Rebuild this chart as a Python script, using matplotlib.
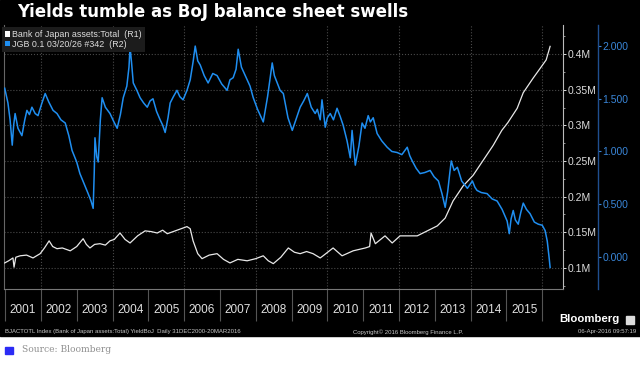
import matplotlib
matplotlib.use('Agg')
import matplotlib.pyplot as plt
from matplotlib.patches import Rectangle, Patch
from matplotlib.ticker import MultipleLocator, FuncFormatter, FixedLocator, NullFormatter
import numpy as np

# JGB 0.1 03/20/26 yield (R2), decimal years
jgb_t = [2000.99, 2001.08, 2001.14, 2001.20, 2001.24, 2001.28, 2001.36, 2001.47, 2001.55, 2001.61,
         2001.68, 2001.75, 2001.84, 2001.92, 2002.02, 2002.12, 2002.22, 2002.34, 2002.45, 2002.56,
         2002.68, 2002.78, 2002.87, 2003.00, 2003.09, 2003.20, 2003.32, 2003.40, 2003.46, 2003.49,
         2003.51, 2003.56, 2003.60, 2003.66, 2003.71, 2003.80, 2003.93, 2004.04, 2004.13, 2004.22,
         2004.30, 2004.40, 2004.46, 2004.49, 2004.53, 2004.58, 2004.68, 2004.77, 2004.87, 2004.97,
         2005.05, 2005.13, 2005.23, 2005.33, 2005.40, 2005.47, 2005.55, 2005.61, 2005.70, 2005.80,
         2005.88, 2005.97, 2006.08, 2006.17, 2006.25, 2006.31, 2006.38, 2006.45, 2006.56, 2006.67,
         2006.80, 2006.92, 2007.05, 2007.20, 2007.28, 2007.37, 2007.45, 2007.51, 2007.60, 2007.76,
         2007.84, 2007.93, 2008.05, 2008.21, 2008.33, 2008.46, 2008.52, 2008.60, 2008.68, 2008.77,
         2008.90, 2009.02, 2009.12, 2009.24, 2009.34, 2009.44, 2009.55, 2009.66, 2009.72, 2009.80,
         2009.85, 2009.94, 2010.00, 2010.08, 2010.17, 2010.27, 2010.36, 2010.44, 2010.55, 2010.64,
         2010.69, 2010.74, 2010.78, 2010.88, 2010.97, 2011.05, 2011.14, 2011.20, 2011.28, 2011.39,
         2011.52, 2011.67, 2011.80, 2011.95, 2012.08, 2012.23, 2012.30, 2012.37, 2012.48, 2012.59,
         2012.72, 2012.87, 2012.98, 2013.10, 2013.20, 2013.29, 2013.36, 2013.42, 2013.46, 2013.54,
         2013.63, 2013.75, 2013.91, 2014.05, 2014.12, 2014.18, 2014.30, 2014.46, 2014.60, 2014.74,
         2014.88, 2015.02, 2015.08, 2015.13, 2015.19, 2015.25, 2015.33, 2015.40, 2015.47, 2015.56,
         2015.66, 2015.78, 2015.89, 2016.00, 2016.08, 2016.14, 2016.19, 2016.22]
jgb_y = [1.60, 1.46, 1.30, 1.06, 1.25, 1.36, 1.22, 1.15, 1.30, 1.39,
         1.35, 1.42, 1.36, 1.34, 1.45, 1.55, 1.47, 1.39, 1.36, 1.30,
         1.27, 1.15, 1.01, 0.90, 0.79, 0.70, 0.60, 0.53, 0.46, 0.80,
         1.13, 0.95, 0.90, 1.30, 1.51, 1.42, 1.36, 1.28, 1.22, 1.35,
         1.51, 1.62, 1.80, 1.99, 1.85, 1.65, 1.58, 1.51, 1.46, 1.42,
         1.48, 1.50, 1.38, 1.30, 1.25, 1.18, 1.32, 1.46, 1.52, 1.58,
         1.52, 1.49, 1.58, 1.68, 1.85, 2.00, 1.86, 1.82, 1.72, 1.65,
         1.74, 1.72, 1.64, 1.58, 1.68, 1.70, 1.78, 1.97, 1.80, 1.68,
         1.62, 1.51, 1.40, 1.28, 1.52, 1.84, 1.72, 1.65, 1.58, 1.55,
         1.32, 1.20, 1.30, 1.42, 1.48, 1.55, 1.42, 1.36, 1.40, 1.30,
         1.49, 1.23, 1.32, 1.36, 1.30, 1.41, 1.33, 1.25, 1.10, 0.94,
         1.20, 1.02, 0.87, 1.05, 1.27, 1.22, 1.34, 1.28, 1.32, 1.17,
         1.10, 1.04, 1.00, 0.99, 0.97, 1.04, 0.96, 0.91, 0.84, 0.79,
         0.80, 0.82, 0.76, 0.72, 0.60, 0.47, 0.62, 0.80, 0.91, 0.82,
         0.85, 0.72, 0.65, 0.72, 0.66, 0.63, 0.61, 0.60, 0.55, 0.53,
         0.45, 0.34, 0.22, 0.36, 0.44, 0.35, 0.31, 0.42, 0.51, 0.45,
         0.41, 0.33, 0.31, 0.30, 0.25, 0.15, 0.00, -0.10]

# Bank of Japan assets total (R1), millions
boj_t = [2000.99, 2001.10, 2001.22, 2001.25, 2001.30, 2001.42, 2001.60, 2001.78, 2001.98, 2002.10,
         2002.23, 2002.33, 2002.45, 2002.60, 2002.82, 2003.00, 2003.18, 2003.27, 2003.37, 2003.50,
         2003.65, 2003.80, 2003.93, 2004.05, 2004.21, 2004.35, 2004.49, 2004.70, 2004.91, 2005.08,
         2005.25, 2005.40, 2005.53, 2005.75, 2005.97, 2006.08, 2006.17, 2006.25, 2006.38, 2006.50,
         2006.70, 2006.92, 2007.10, 2007.28, 2007.50, 2007.76, 2008.00, 2008.21, 2008.35, 2008.49,
         2008.70, 2008.91, 2009.08, 2009.24, 2009.42, 2009.60, 2009.80, 2009.88, 2010.16, 2010.41,
         2010.72, 2011.06, 2011.18, 2011.22, 2011.34, 2011.61, 2011.81, 2012.03, 2012.23, 2012.51,
         2012.79, 2013.07, 2013.29, 2013.51, 2013.79, 2014.07, 2014.35, 2014.63, 2014.87, 2015.04,
         2015.30, 2015.47, 2015.74, 2015.94, 2016.11, 2016.22]
boj_v = [0.107, 0.110, 0.114, 0.101, 0.115, 0.117, 0.118, 0.114, 0.120, 0.128,
         0.138, 0.130, 0.127, 0.128, 0.124, 0.130, 0.141, 0.133, 0.128, 0.133,
         0.134, 0.132, 0.138, 0.140, 0.149, 0.140, 0.135, 0.145, 0.152, 0.151,
         0.149, 0.153, 0.148, 0.152, 0.156, 0.158, 0.155, 0.138, 0.120, 0.113,
         0.118, 0.120, 0.112, 0.107, 0.112, 0.110, 0.113, 0.117, 0.110, 0.106,
         0.115, 0.128, 0.122, 0.120, 0.123, 0.120, 0.114, 0.117, 0.128, 0.117,
         0.124, 0.128, 0.130, 0.149, 0.134, 0.145, 0.135, 0.145, 0.145, 0.145,
         0.152, 0.159, 0.170, 0.194, 0.215, 0.230, 0.251, 0.272, 0.293, 0.304,
         0.324, 0.346, 0.366, 0.380, 0.392, 0.411]

years = list(range(2001, 2017))
year_labels = [str(y) for y in range(2001, 2016)]

W, H = 640, 369
fig = plt.figure(figsize=(6.4, 3.69), dpi=100, facecolor='white')
fig.patches.append(Rectangle((0, 1 - 336 / H), 1, 336 / H, transform=fig.transFigure,
                             color='black', zorder=-5))

ax = fig.add_axes([4 / W, 1 - 289 / H, (563 - 4) / W, (289 - 25) / H])
ax.set_facecolor('black')
ax2 = ax.twinx()
ax.set_xlim(2000.97, 2016.58)
ax.set_ylim(0.0704, 0.441)

# white line, R1
ax.plot(boj_t, boj_v, color='#e8e8e8', lw=0.9, zorder=3)
ax.yaxis.tick_right()
ax.yaxis.set_major_locator(MultipleLocator(0.05))
ax.yaxis.set_minor_locator(MultipleLocator(0.025))
ax.yaxis.set_major_formatter(FuncFormatter(lambda v, p: f'{v:g}M'))
ax.tick_params(axis='y', which='major', colors='#dddddd', length=2.5, width=0.7,
               labelsize=7.5, pad=1)
ax.tick_params(axis='y', which='minor', colors='#aaaaaa', length=1.5, width=0.6)
for lab in ax.get_yticklabels():
    lab.set_family('Liberation Sans')
ax.grid(axis='y', color='#4a4a4a', ls=':', lw=0.8)
for y in range(2002, 2017, 2):
    ax.axvline(y, color='#4a4a4a', ls=':', lw=0.8, zorder=1)

# year strip
ax.xaxis.set_major_locator(FixedLocator(years))
ax.xaxis.set_major_formatter(NullFormatter())
ax.xaxis.set_minor_locator(FixedLocator([y + 0.5 for y in range(2001, 2016)]))
ax.xaxis.set_minor_formatter(FuncFormatter(lambda v, p: year_labels[p] if p < len(year_labels) else ''))
ax.tick_params(axis='x', which='major', direction='out', length=23, width=0.8, color='#555555')
ax.tick_params(axis='x', which='minor', length=0, pad=10.5, labelsize=8.5, labelcolor='#e0e0e0')
for lab in ax.xaxis.get_minorticklabels():
    lab.set_family('Liberation Sans')

ax.spines['top'].set_visible(False)
ax.spines['left'].set_color('#666666')
ax.spines['bottom'].set_color('#777777')
ax.spines['right'].set_color('#bbbbbb')
for s in ax.spines.values():
    s.set_linewidth(0.8)

# blue line, R2
ax2.set_ylim(-0.305, 2.2)
ax2.plot(jgb_t, jgb_y, color='#1f8ef0', lw=1.1, zorder=4)
ax2.yaxis.set_major_locator(MultipleLocator(0.5))
ax2.yaxis.set_major_formatter(FuncFormatter(lambda v, p: f'{v:.3f}'))
ax2.spines['right'].set_position(('outward', 25))
ax2.spines['right'].set_color('#1f4f8f')
ax2.spines['right'].set_linewidth(1.0)
for k in ['top', 'left', 'bottom']:
    ax2.spines[k].set_visible(False)
ax2.tick_params(axis='y', colors='#3a86d8', length=2.5, width=0.8, labelsize=7.5, pad=1)
for lab in ax2.get_yticklabels():
    lab.set_family('Liberation Sans')

handles = [Patch(facecolor='white', edgecolor='none', label='Bank of Japan assets:Total  (R1)'),
           Patch(facecolor='#1f8ef0', edgecolor='none', label='JGB 0.1 03/20/26 #342  (R2)')]
leg = ax2.legend(handles=handles, loc='upper left', bbox_to_anchor=(-0.004, 0.992),
                 frameon=True, fancybox=False, facecolor='#1c1c1c', edgecolor='none',
                 framealpha=1, handlelength=0.55, handleheight=0.55, handletextpad=0.25,
                 labelspacing=0.05, borderpad=0.35, borderaxespad=0,
                 prop={'family': 'Liberation Sans', 'size': 6.4})
for t in leg.get_texts():
    t.set_color('#dddddd')

fig.text(17 / W, 1 - 12 / H, 'Yields tumble as BoJ balance sheet swells', color='white',
         fontsize=12, fontweight='bold', family='DejaVu Sans', va='center', ha='left')

fig.text(620 / W, 1 - 319 / H, 'Bloomberg', color='white', fontsize=8.2, fontweight='bold',
         family='Liberation Sans', va='center', ha='right')
fig.patches.append(Rectangle((626 / W, 1 - 324 / H), 8 / W, 8 / H, transform=fig.transFigure,
                             color='#dddddd', zorder=2))

foot = dict(color='#c8c8c8', fontsize=4.3, family='Liberation Sans', va='center')
fig.text(5 / W, 1 - 332 / H,
         'BJACTOTL Index (Bank of Japan assets:Total) YieldBoJ  Daily 31DEC2000-20MAR2016',
         ha='left', **foot)
fig.text(408 / W, 1 - 332 / H, 'Copyright\u00a9 2016 Bloomberg Finance L.P.', ha='center', **foot)
fig.text(636 / W, 1 - 332 / H, '06-Apr-2016 09:57:19', ha='right', **foot)

fig.patches.append(Rectangle((5 / W, 1 - 354 / H), 8 / W, 7 / H, transform=fig.transFigure,
                             color='#2b2bf5', zorder=2))
fig.text(22 / W, 1 - 350 / H, 'Source: Bloomberg', color='#909090', fontsize=6.6,
         family='DejaVu Serif', va='center', ha='left')

fig.savefig('out.png', dpi=100, facecolor=fig.get_facecolor())
